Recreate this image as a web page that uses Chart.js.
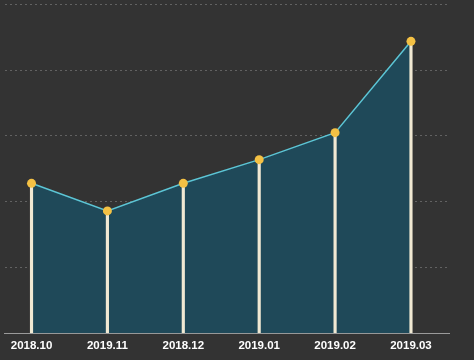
<!DOCTYPE html>
<html>
<head>
<meta charset="utf-8">
<script src="https://cdn.jsdelivr.net/npm/chart.js@4"></script>
<style>
  html, body { margin: 0; padding: 0; background: #333333; }
  #wrap { width: 474px; height: 360px; }
</style>
</head>
<body>
<div id="wrap"><canvas id="chart"></canvas></div>
<script>
// data
const months = ["2018.10", "2019.11", "2018.12", "2019.01", "2019.02", "2019.03"];
const values = [228, 186, 228, 264, 305, 444];

const points = values.map((v, i) => ({ x: i, y: v }));

const ctx = document.getElementById("chart");

new Chart(ctx, {
  type: 'line',
  data: {
    datasets: [
      {
        type: 'line',
        data: points,
        borderColor: '#5cc5d5',
        borderWidth: 1.5,
        backgroundColor: '#1f4959',
        fill: 'origin',
        tension: 0,
        pointRadius: 4.5,
        pointHoverRadius: 4.5,
        pointBackgroundColor: '#f4c144',
        pointBorderColor: '#f4c144',
        pointBorderWidth: 0,
        order: 0
      },
      {
        type: 'bar',
        data: points,
        backgroundColor: '#f1e9d3',
        barThickness: 2.5,
        order: 1
      }
    ]
  },
  options: {
    responsive: true,
    maintainAspectRatio: false,
    animation: false,
    layout: { padding: { left: 0, right: 25, top: 3, bottom: 1 } },
    plugins: {
      legend: { display: false },
      tooltip: { enabled: false },
      filler: { drawTime: 'beforeDatasetsDraw' }
    },
    scales: {
      x: {
        type: 'linear',
        offset: false,
        min: -0.356,
        max: 5.501,
        grid: { display: false, drawTicks: false },
        border: { display: true, color: '#9a9a9a', width: 1 },
        ticks: {
          stepSize: 1,
          includeBounds: false,
          padding: 6,
          color: '#ffffff',
          font: { family: 'Liberation Sans', size: 11.5, weight: 'bold' },
          callback: v => Number.isInteger(v) ? months[v] : ''
        }
      },
      y: {
        min: 0,
        max: 500,
        ticks: { display: false, stepSize: 100, padding: 0 },
        border: { display: false, dash: [2, 3] },
        grid: {
          color: '#626262',
          lineWidth: 1,
          drawTicks: false
        },
        afterFit: s => { s.width = 0; }
      }
    }
  }
});
</script>
</body>
</html>
